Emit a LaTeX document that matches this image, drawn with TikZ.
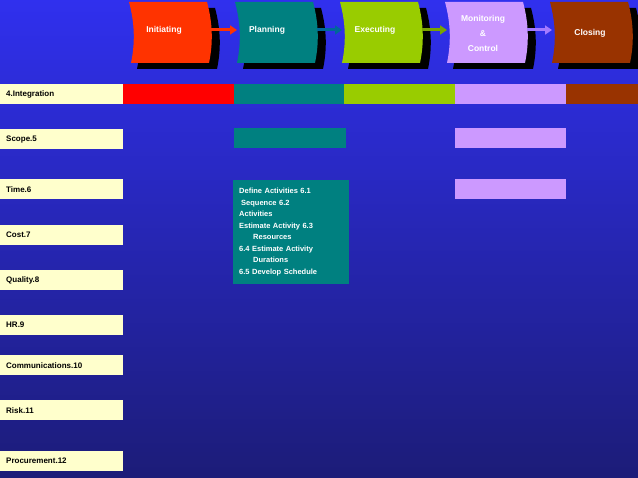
\documentclass[tikz,border=0pt]{standalone}
\usepackage{fontspec}
\setmainfont{Liberation Sans}
\usetikzlibrary{arrows.meta}
\definecolor{bgtop}{HTML}{3030EE}
\definecolor{bgbot}{HTML}{1C1C78}
\definecolor{lbl}{HTML}{FFFFCC}
\definecolor{cred}{HTML}{FF3300}
\definecolor{bred}{HTML}{FF0000}
\definecolor{cteal}{HTML}{008080}
\definecolor{cgreen}{HTML}{99CC00}
\definecolor{clav}{HTML}{CC99FF}
\definecolor{cbrown}{HTML}{993300}
\tikzset{
 lab/.style={fill=lbl,draw=none,minimum width=123pt,minimum height=20pt,anchor=north west,inner sep=0pt,
   font=\bfseries\fontsize{8}{9}\selectfont,text=black,align=left,text width=119pt},
 bar/.style={draw=none,anchor=north west,inner sep=0pt,minimum height=20pt},
 ptxt/.style={text=white,font=\bfseries\fontsize{8.5}{10}\selectfont,align=center},
 flow/.style={-{Triangle[length=7pt,width=9pt]},line width=3pt,shorten >=0pt}
}
\newcommand{\pbox}[3]{% x, color, name
 \fill[black] (#1+6,-8) .. controls (#1+12,-30) and (#1+12,-50) .. (#1+8,-69) -- (#1+88,-69)
   .. controls (#1+92,-50) and (#1+92,-30) .. (#1+86,-8) -- cycle;
 \fill[#2] (#1,-2) .. controls (#1+6,-24) and (#1+6,-44) .. (#1+2,-63) -- (#1+80,-63)
   .. controls (#1+84,-44) and (#1+84,-24) .. (#1+78,-2) -- cycle;
 \coordinate (#3w) at (#1+2,-30); \coordinate (#3e) at (#1+82,-30);
}
\begin{document}
\begin{tikzpicture}[x=1pt,y=1pt]
\shade[top color=bgtop,bottom color=bgbot] (0,0) rectangle (638,-478);
\useasboundingbox (0,0) rectangle (638,-478);
\pbox{129}{cred}{a}
\pbox{235}{cteal}{b}
\pbox{340}{cgreen}{c}
\pbox{445}{clav}{d}
\pbox{550}{cbrown}{e}
\node[ptxt] (ti) at (164,-30) {Initiating};
\node[ptxt] (tp) at (267,-30) {Planning};
\node[ptxt] (tx) at (375,-30) {Executing};
\node[ptxt] (tm) at (483,-33) {Monitoring\\[5pt]\&\\[5pt]Control};
\node[ptxt] (tc) at (590,-33) {Closing};
\draw[flow,cred] (ae) -- (bw);
\draw[flow,cteal!80!blue] (be) -- (cw);
\draw[flow,cgreen!80!black] (ce) -- (dw);
\draw[flow,clav!80!blue] (de) -- (ew);
\node[lab] (l1) at (0,-84) {\hspace*{4pt}4.Integration};
\node[lab] (l2) at (0,-129) {\hspace*{4pt}Scope.5};
\node[lab] (l3) at (0,-179) {\hspace*{4pt}Time.6};
\node[lab] (l4) at (0,-225) {\hspace*{4pt}Cost.7};
\node[lab] (l5) at (0,-270) {\hspace*{4pt}Quality.8};
\node[lab] (l6) at (0,-315) {\hspace*{4pt}HR.9};
\node[lab] (l7) at (0,-355) {\hspace*{4pt}Communications.10};
\node[lab] (l8) at (0,-400) {\hspace*{4pt}Risk.11};
\node[lab] (l9) at (0,-451) {\hspace*{4pt}Procurement.12};
\node[bar,fill=bred,minimum width=111pt] (r1) at (123,-84) {};
\node[bar,fill=cteal,minimum width=110pt] (r2) at (234,-84) {};
\node[bar,fill=cgreen,minimum width=111pt] (r3) at (344,-84) {};
\node[bar,fill=clav,minimum width=111pt] (r4) at (455,-84) {};
\node[bar,fill=cbrown,minimum width=72pt] (r5) at (566,-84) {};
\node[bar,fill=cteal,minimum width=112pt] (s1) at (234,-128) {};
\node[bar,fill=clav,minimum width=111pt] (s2) at (455,-128) {};
\node[bar,fill=clav,minimum width=111pt] (t2) at (455,-179) {};
\node[bar,fill=cteal,minimum width=112pt,minimum height=104pt,text=white,align=left,
  font=\bfseries\fontsize{7.5}{11.5}\selectfont,text width=104pt,inner xsep=6pt,inner ysep=3pt,anchor=north west] (tb) at (233,-180)
 {Define Activities 6.1\\
 \hspace*{2pt}Sequence 6.2\\
 Activities\\
 Estimate Activity 6.3\\
 \hspace*{14pt}Resources\\
 6.4 Estimate Activity\\
 \hspace*{14pt}Durations\\
 6.5 Develop Schedule};
\end{tikzpicture}
\end{document}
